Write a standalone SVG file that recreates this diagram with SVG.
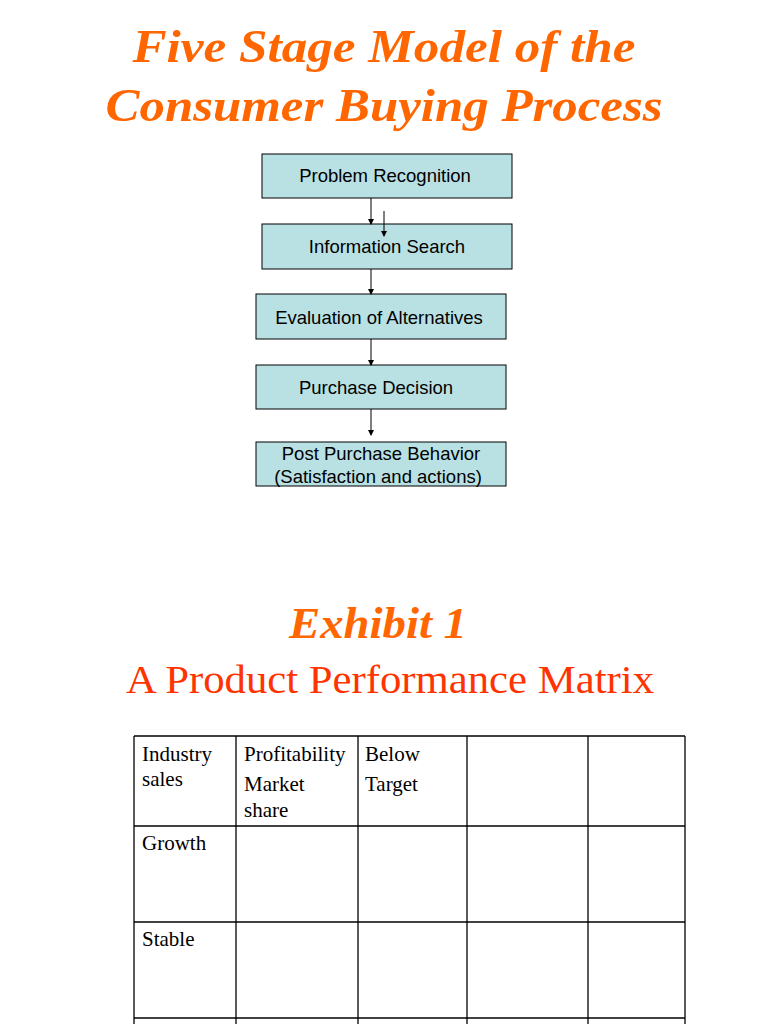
<svg xmlns="http://www.w3.org/2000/svg" width="768" height="1024" viewBox="0 0 768 1024">
<style>
.t{font-family:"Liberation Serif",serif;font-style:italic;font-weight:bold;fill:#ff6600;text-anchor:middle}
.b rect{fill:#b9e1e3;stroke:#000;stroke-width:1}
.b text{font-family:"Liberation Sans",Arial,sans-serif;font-size:18.5px;text-anchor:middle;fill:#000}
.c line{stroke:#000;stroke-width:1}
.m{font-family:"Liberation Serif",serif;font-size:21px;fill:#000}
.g line{stroke:#000;stroke-width:1.3}
</style>
<defs><marker id="a" markerWidth="6" markerHeight="6" refX="5" refY="3" orient="auto" markerUnits="userSpaceOnUse"><path d="M0,0L6,3L0,6z" fill="#000"/></marker></defs>
<rect width="768" height="1024" fill="#fff"/>
<text class="t" x="384" y="62" font-size="47" textLength="503" lengthAdjust="spacingAndGlyphs">Five Stage Model of the</text>
<text class="t" x="384" y="121" font-size="47" textLength="557" lengthAdjust="spacingAndGlyphs">Consumer Buying Process</text>
<g id="n1" class="b"><rect x="262" y="154" width="250" height="44"/><text x="385" y="182">Problem Recognition</text></g>
<g id="n2" class="b"><rect x="262" y="224" width="250" height="45"/><text x="387" y="253">Information Search</text></g>
<g id="n3" class="b"><rect x="256" y="294" width="250" height="45"/><text x="379" y="324">Evaluation of Alternatives</text></g>
<g id="n4" class="b"><rect x="256" y="365" width="250" height="44"/><text x="376" y="394">Purchase Decision</text></g>
<g id="n5" class="b"><rect x="256" y="442" width="250" height="44"/><text x="381" y="460">Post Purchase Behavior</text><text x="378" y="483">(Satisfaction and actions)</text></g>
<g id="connectors" class="c">
<line x1="371" y1="198" x2="371" y2="224" marker-end="url(#a)"/>
<line x1="384" y1="211" x2="384" y2="236" marker-end="url(#a)"/>
<line x1="371" y1="269" x2="371" y2="294" marker-end="url(#a)"/>
<line x1="371" y1="339" x2="371" y2="365" marker-end="url(#a)"/>
<line x1="371" y1="409" x2="371" y2="435" marker-end="url(#a)"/>
</g>
<text class="t" x="378" y="638" font-size="45" textLength="178" lengthAdjust="spacingAndGlyphs">Exhibit 1</text>
<text x="390" y="693" font-family="Liberation Serif,serif" font-size="39" fill="#ff3300" text-anchor="middle" textLength="528" lengthAdjust="spacingAndGlyphs">A Product Performance Matrix</text>
<g id="table" class="g">
<line x1="134" y1="736" x2="685" y2="736"/><line x1="134" y1="826" x2="685" y2="826"/><line x1="134" y1="922" x2="685" y2="922"/><line x1="134" y1="1018" x2="685" y2="1018"/>
<line x1="134" y1="736" x2="134" y2="1024"/><line x1="236" y1="736" x2="236" y2="1024"/><line x1="358" y1="736" x2="358" y2="1024"/><line x1="467" y1="736" x2="467" y2="1024"/><line x1="588" y1="736" x2="588" y2="1024"/><line x1="685" y1="736" x2="685" y2="1024"/>
</g>
<text class="m" x="142" y="761">Industry</text><text class="m" x="142" y="786">sales</text>
<text class="m" x="244" y="761">Profitability</text><text class="m" x="244" y="791">Market</text><text class="m" x="244" y="817">share</text>
<text class="m" x="365" y="761">Below</text><text class="m" x="365" y="791">Target</text>
<text class="m" x="142" y="850">Growth</text>
<text class="m" x="142" y="946">Stable</text>
</svg>
